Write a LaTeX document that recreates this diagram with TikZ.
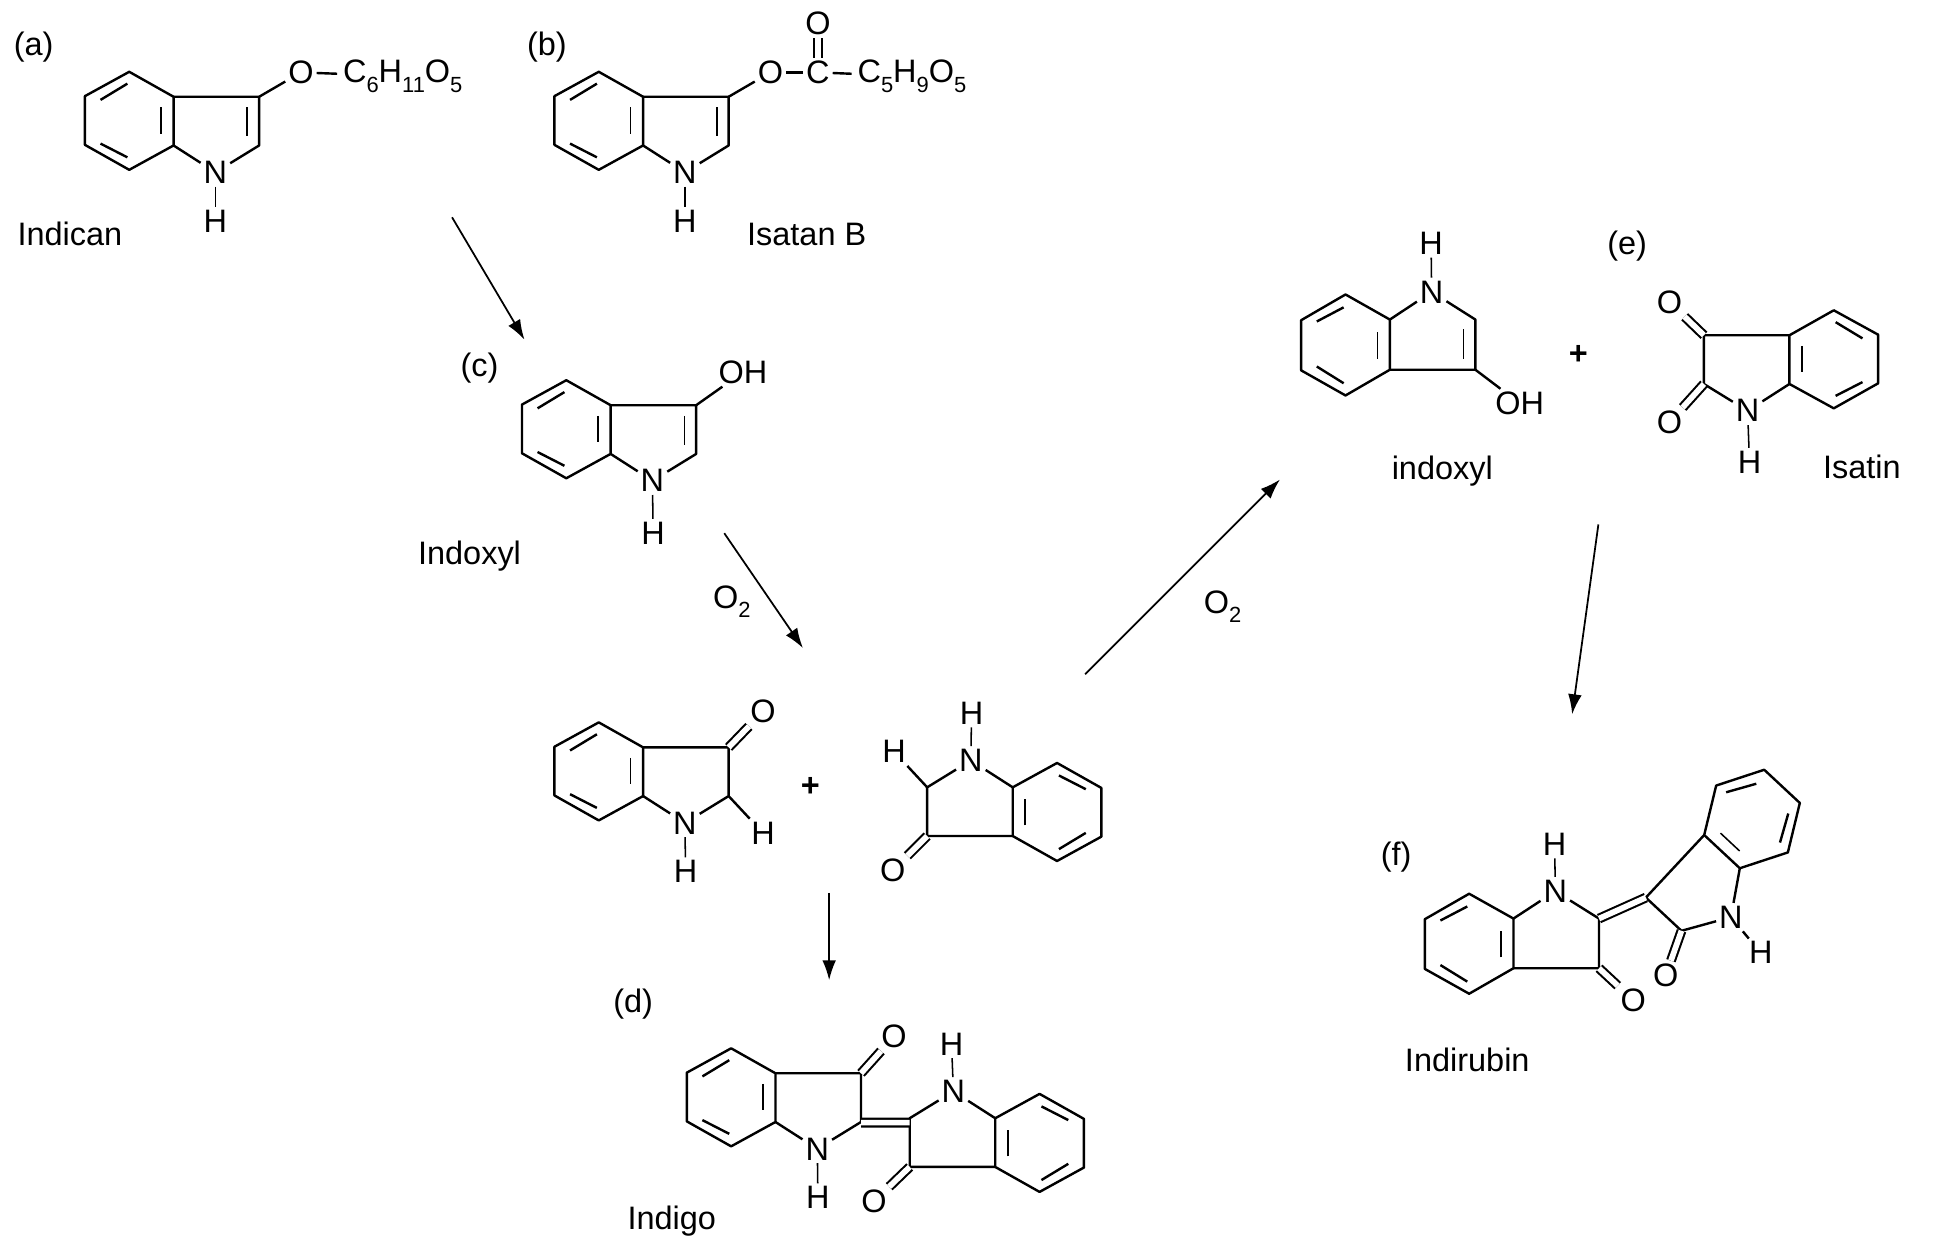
\documentclass[tikz,border=0pt]{standalone}
\usepackage{fontspec}
\setmainfont{Liberation Sans}
\usetikzlibrary{arrows.meta}

\newcommand{\lowered}[1]{\raisebox{-.55ex}{\fontsize{10}{10}\selectfont #1}}

\tikzset{
  every node/.style={font=\fontsize{14.8}{16}\selectfont},
  atom/.style={inner sep=1.2pt},
  group/.style={inner sep=2.5pt,anchor=west},
  lab/.style={inner sep=0pt},
  bond/.style={line width=1.1pt,line join=round},
  thinbond/.style={line width=.7pt},
  dbl/.style={line width=.95pt,double,double distance=2.6pt},
  rxn/.style={line width=.8pt,-{Latex[length=3.2mm,width=2.2mm]}},
  indole/.pic={
    \coordinate (-c3a) at (0,-19.5);
    \coordinate (-c7a) at (0,19.5);
    \coordinate (-top) at (-35.5,-39.5);
    \coordinate (-ul)  at (-71,-20);
    \coordinate (-ll)  at (-71,19);
    \coordinate (-bot) at (-35.5,39);
    \coordinate (-c3)  at (68.5,-19.5);
    \coordinate (-c2)  at (68.5,19.5);
    \coordinate (-i3)  at (59,-11);
    \coordinate (-i2)  at (59,12);
    \node[atom] (-n) at (33.5,41) {N};
    \draw[bond] (-c3a) -- (-top) -- (-ul) -- (-ll) -- (-bot) -- (-c7a) -- cycle;
    \draw[bond] (-c3a) -- (-c3) -- (-c2) -- (-n) -- (-c7a);
    \draw[thinbond] (-10,-11) -- (-10,10);
    \draw[bond] (-58.5,-17) -- (-37,-30);
    \draw[bond] (-58.5,18) -- (-37,29);
  }
}

\begin{document}
\begin{tikzpicture}[x=0.02cm,y=-0.02cm]
  \useasboundingbox (0,0) rectangle (1568,995.4);

  % Indican
  \pic (a) at (139,97) {indole};
  \draw[thinbond] (a-i3) -- (a-i2);
  \node[atom] (aH)  at (172.5,177) {H};
  \node[atom] (aO)  at (241,58) {O};
  \node[group] (aR) at (270,61) {C\lowered{6}H\lowered{11}O\lowered{5}};
  \draw[thinbond] (a-n) -- (aH);
  \draw[bond] (a-c3) -- (aO);
  \draw[bond] (aO) -- (aR);

  % Isatan B
  \pic (b) at (515,97) {indole};
  \draw[thinbond] (b-i3) -- (b-i2);
  \node[atom] (bH)  at (548.5,177) {H};
  \node[atom] (bO)  at (617,58) {O};
  \node[atom] (bC)  at (655,58) {C};
  \node[atom] (bO2) at (655,19) {O};
  \node[group] (bR) at (682,61) {C\lowered{5}H\lowered{9}O\lowered{5}};
  \draw[thinbond] (b-n) -- (bH);
  \draw[bond] (b-c3) -- (bO);
  \draw[bond] (bO) -- (bC);
  \draw[bond] (bC) -- (bR);
  \draw[thinbond,double,double distance=3pt] (bC) -- (bO2);

  % Indoxyl
  \pic (c) at (489,344) {indole};
  \draw[thinbond] (c-i3) -- (c-i2);
  \node[atom] (cH)  at (523,427) {H};
  \node[atom] (cOH) at (595,298) {OH};
  \draw[thinbond] (c-n) -- (cH);
  \draw[bond] (c-c3) -- (cOH);

  % the two ketones
  \pic (k) at (515,618) {indole};
  \node[atom] (kH)  at (549,698) {H};
  \node[atom] (kH2) at (611,667) {H};
  \node[atom] (kO)  at (611,570) {O};
  \draw[thinbond] (k-n) -- (kH);
  \draw[bond] (k-c2) -- (kH2);
  \draw[dbl] (k-c3) -- (kO);

  \pic[rotate=180] (m) at (811,650) {indole};
  \node[atom] (mH)  at (778,571) {H};
  \node[atom] (mH2) at (716,602) {H};
  \node[atom] (mO)  at (715,697) {O};
  \draw[thinbond] (m-n) -- (mH);
  \draw[bond] (m-c2) -- (mH2);
  \draw[dbl] (m-c3) -- (mO);

  % Indigo
  \pic (d) at (621,879) {indole};
  \node[atom] (dH)  at (655,959) {H};
  \node[atom] (dO)  at (716,830) {O};
  \draw[thinbond] (d-n) -- (dH);
  \draw[dbl] (d-c3) -- (dO);
  \pic[rotate=180] (g) at (797,915) {indole};
  \node[atom] (gH)  at (762,836) {H};
  \node[atom] (gO)  at (700,962) {O};
  \draw[thinbond] (g-n) -- (gH);
  \draw[dbl] (g-c3) -- (gO);
  \draw[dbl] ([shift={(0,.5)}]d-c2) -- ([shift={(0,3.5)}]g-c2);

  % indoxyl, second one
  \pic[yscale=-1.03] (p) at (1113,276) {indole};
  \draw[thinbond] (p-i3) -- (p-i2);
  \node[atom] (pH)  at (1146,195) {H};
  \node[atom] (pOH) at (1217,323) {OH};
  \draw[thinbond] (p-n) -- (pH);
  \draw[bond] (p-c3) -- (pOH);

  % Isatin
  \pic[xscale=-1] (e) at (1433,288) {indole};
  \node[atom] (eH)  at (1401,370) {H};
  \node[atom] (eO)  at (1337,242) {O};
  \node[atom] (eO2) at (1337,338) {O};
  \draw[thinbond] (e-n) -- (eH);
  \draw[dbl] (e-c3) -- (eO);
  \draw[dbl] (e-c2) -- (eO2);

  % Indirubin
  \pic[yscale=-1.02] (f) at (1212,755.5) {indole};
  \node[atom] (fH)  at (1245,676) {H};
  \node[atom] (fO)  at (1308,801) {O};
  \draw[thinbond] (f-n) -- (fH);
  \draw[dbl] (f-c3) -- (fO);
  \pic[rotate=47,xscale=-1] (h) at (1379,682) {indole};
  \node[atom] (hH)  at (1410,763) {H};
  \node[atom] (hO)  at (1334,781) {O};
  \draw[bond] (h-n) -- (hH);
  \draw[dbl] (h-c2) -- (hO);
  \draw[dbl] (f-c2) -- (h-c3);

  % plus signs and oxygen
  \node[lab] (plusA) at (649,630) {\textbf{+}};
  \node[lab] (plusB) at (1264,284) {\textbf{+}};
  \node[lab] (oxA) at (586,482) {O\lowered{2}};
  \node[lab] (oxB) at (979,486) {O\lowered{2}};

  % letters and names
  \node[lab] (la) at (27,38)    {(a)};
  \node[lab] (lb) at (438,38)   {(b)};
  \node[lab] (lc) at (384,295)  {(c)};
  \node[lab] (ld) at (507,804)  {(d)};
  \node[lab] (le) at (1303,197) {(e)};
  \node[lab] (lf) at (1118,686) {(f)};
  \node[lab] (nameA) at (56,187)   {Indican};
  \node[lab] (nameB) at (646,188)  {Isatan B};
  \node[lab] (nameC) at (376,445)  {Indoxyl};
  \node[lab] (nameP) at (1155,377) {indoxyl};
  \node[lab] (nameE) at (1491,374) {Isatin};
  \node[lab] (nameD) at (538,978)  {Indigo};
  \node[lab] (nameF) at (1175,849) {Indirubin};

  % reaction arrows
  \coordinate (r1s) at (362,174);  \coordinate (r1e) at (420,272);
  \coordinate (r2s) at (580,427);  \coordinate (r2e) at (643,519);
  \coordinate (r3s) at (869,540);  \coordinate (r3e) at (1025,384);
  \coordinate (r4s) at (1280,420); \coordinate (r4e) at (1259,572);
  \coordinate (r5s) at (664,715);  \coordinate (r5e) at (664,785);
  \draw[rxn] (r1s) -- (r1e);
  \draw[rxn] (r2s) -- (r2e);
  \draw[rxn] (r3s) -- (r3e);
  \draw[rxn] (r4s) -- (r4e);
  \draw[rxn] (r5s) -- (r5e);
\end{tikzpicture}
\end{document}
